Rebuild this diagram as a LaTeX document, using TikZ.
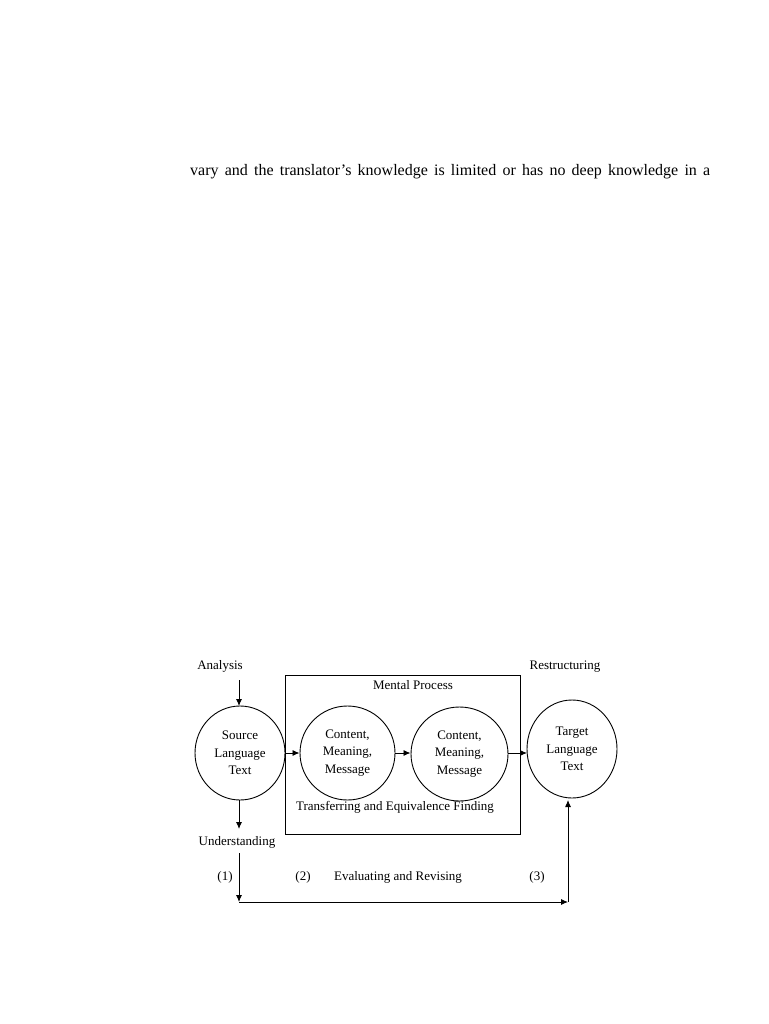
\documentclass[tikz,border=0pt]{standalone}
\usepackage{fontspec}
\setmainfont{Liberation Serif}
\usetikzlibrary{arrows.meta}
\begin{document}
\begin{tikzpicture}[x=1pt,y=-1pt,
  lbl/.style={font=\fontsize{13}{17.5}\selectfont, align=center, inner sep=0pt},
  arr/.style={-{Latex[length=7pt,width=6pt]}, line width=0.9pt},
  ln/.style={line width=0.9pt}]
\useasboundingbox (0,0) rectangle (768,1024);
\fill[white] (0,0) rectangle (768,1024);
\node[font=\fontsize{16}{19}\selectfont, inner sep=0pt, anchor=west] (top) at (190,172)
  {\makebox[520pt][s]{vary and the translator's knowledge is limited or has no deep knowledge in a}};
% box
\draw[ln] (285,675) rectangle (520,834);
\node[lbl] (mp) at (413,685) {Mental Process};
\node[lbl] (tef) at (395,807) {Transferring and Equivalence Finding};
% circles
\draw[ln] (240,753) ellipse [x radius=45, y radius=47];
\node[lbl] (src) at (240,753) {Source\\Language\\Text};
\draw[ln] (347.5,753) ellipse [x radius=47.5, y radius=47];
\node[lbl] (c2) at (347.5,753) {Content,\\Meaning,\\Message};
\draw[ln] (459.5,754) ellipse [x radius=48.5, y radius=47];
\node[lbl] (c3) at (459.5,754) {Content,\\Meaning,\\Message};
\draw[ln] (572,749) ellipse [x radius=45, y radius=49];
\node[lbl] (tgt) at (572,749) {Target\\Language\\Text};
% labels
\node[lbl] (ana) at (220,666) {Analysis};
\node[lbl] (res) at (565,667) {Restructuring};
\node[lbl] (und) at (237,842) {Understanding};
\node[lbl] (n1) at (225,877) {(1)};
\node[lbl] (n2) at (303,877) {(2)};
\node[lbl] (eval) at (398,877) {Evaluating and Revising};
\node[lbl] (n3) at (537,877) {(3)};
% coordinates
\coordinate (a1) at (239,680);
\coordinate (a2) at (239,706);
\coordinate (s1) at (239,800);
\coordinate (s2) at (239,829);
\coordinate (u1) at (239,853);
\coordinate (u2) at (239,902);
\coordinate (h2) at (568,902);
\coordinate (t1) at (568,800);
\coordinate (e1) at (285,753);
\coordinate (e2) at (299.5,753);
\coordinate (e3) at (395,753);
\coordinate (e4) at (410.5,753);
\coordinate (e5) at (508,753);
\coordinate (e6) at (527,753);
% arrows
\draw[arr] (a1) -- (a2);
\draw[arr] (s1) -- (s2);
\draw[arr] (u1) -- (u2);
\draw[arr] (u2) -- (h2);
\draw[arr] (h2) -- (t1);
\draw[arr] (e1) -- (e2);
\draw[arr] (e3) -- (e4);
\draw[arr] (e5) -- (e6);
\end{tikzpicture}
\end{document}
